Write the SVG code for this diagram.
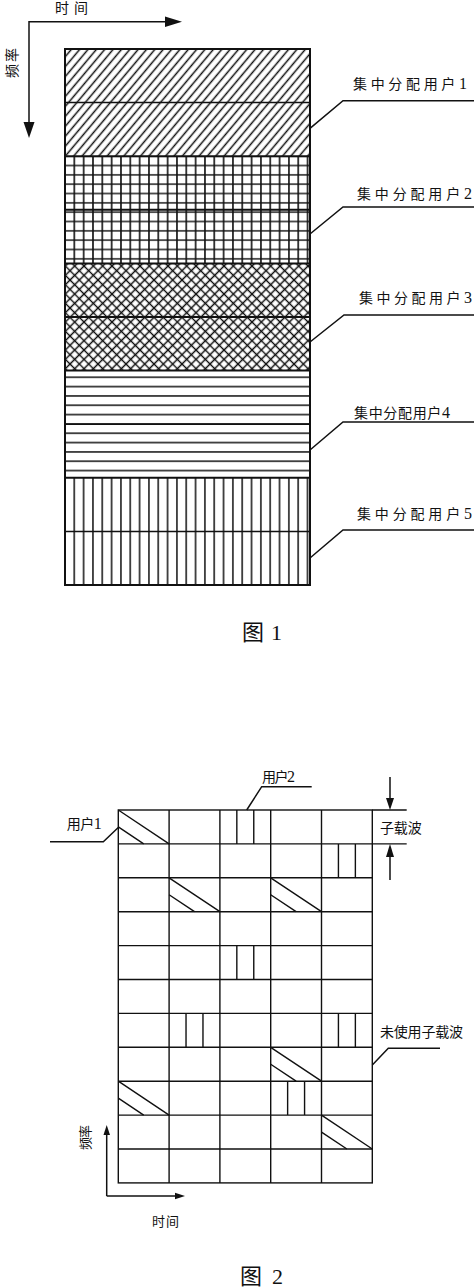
<svg xmlns="http://www.w3.org/2000/svg" width="474" height="1288" viewBox="0 0 474 1288">
<style>
.bg{fill:#fff}
.ln{stroke:#111;stroke-width:1.5;fill:none}
.thick{stroke:#111;stroke-width:2;fill:none}
.cell{stroke:#111;stroke-width:1.4;fill:none}
.ah{fill:#111;stroke:none}
.t{font-family:"Liberation Serif","Noto Sans CJK SC",serif;fill:#111}
.lab{font-size:14px}
.d{font-size:16px}
.cap{font-size:22px}
</style>
<defs>
<pattern id="p1" patternUnits="userSpaceOnUse" width="6.4" height="6.4" patternTransform="rotate(40)"><line x1="3.2" y1="-1" x2="3.2" y2="7.4" stroke="#111" stroke-width="1.5"/></pattern>
<pattern id="p2" patternUnits="userSpaceOnUse" width="9.33" height="9.33" patternTransform="translate(60.33,151.53)"><path d="M4.67 -1V10.33M-1 4.67H10.33" stroke="#111" stroke-width="1.6"/></pattern>
<pattern id="p3" patternUnits="userSpaceOnUse" width="6.6" height="6.6" patternTransform="rotate(45)"><path d="M3.3 -1V7.6M-1 3.3H7.6" stroke="#111" stroke-width="1.5"/></pattern>
<pattern id="p4" patternUnits="userSpaceOnUse" width="10" height="9.33" patternTransform="translate(0,372.6)"><line x1="-1" y1="4.67" x2="11" y2="4.67" stroke="#111" stroke-width="1.5"/></pattern>
<pattern id="p5" patternUnits="userSpaceOnUse" width="9.33" height="10" patternTransform="translate(69.6,0)"><line x1="4.67" y1="-1" x2="4.67" y2="11" stroke="#111" stroke-width="1.5"/></pattern>
</defs>
<rect class="bg" x="0" y="0" width="474" height="1288"/>

<!-- Figure 1 axes -->
<g id="fig1-axes">
<line class="ln" x1="29" y1="21.7" x2="166" y2="21.7"/>
<polygon class="ah" points="165,16.5 182,21.7 165,27"/>
<line class="ln" x1="29" y1="21" x2="29" y2="123"/>
<polygon class="ah" points="23.5,122 29,138 34.5,122"/>
<text class="t lab" x="55" y="13" textLength="33" lengthAdjust="spacing">时间</text>
<text class="t lab" text-anchor="middle" dominant-baseline="central" textLength="30" lengthAdjust="spacing" transform="translate(12,63) rotate(-90)">频率</text>
</g>

<!-- Figure 1 user blocks -->
<g id="user1">
<rect x="65" y="49" width="245" height="107.2" fill="url(#p1)"/>
<line class="ln" x1="65" y1="102.6" x2="310" y2="102.6"/>
</g>
<g id="user2">
<rect x="65" y="156.2" width="245" height="107.2" fill="url(#p2)"/>
<line class="thick" x1="65" y1="209.8" x2="310" y2="209.8"/>
</g>
<g id="user3">
<rect x="65" y="263.4" width="245" height="107.2" fill="url(#p3)"/>
<line class="thick" x1="65" y1="317" x2="310" y2="317"/>
</g>
<g id="user4">
<rect x="65" y="370.6" width="245" height="107.2" fill="url(#p4)"/>
<line class="ln" x1="65" y1="424.2" x2="310" y2="424.2"/>
</g>
<g id="user5">
<rect x="65" y="477.8" width="245" height="107.2" fill="url(#p5)"/>
<line class="ln" x1="65" y1="531.4" x2="310" y2="531.4"/>
</g>
<g id="fig1-frame">
<line class="thick" x1="65" y1="156.2" x2="310" y2="156.2"/>
<line class="thick" x1="65" y1="263.4" x2="310" y2="263.4"/>
<line class="thick" x1="65" y1="370.6" x2="310" y2="370.6"/>
<line class="thick" x1="65" y1="477.8" x2="310" y2="477.8"/>
<rect class="thick" x="65" y="49" width="245" height="536"/>
</g>

<g id="fig1-labels">
<text class="t lab" x="353" y="89" textLength="114" lengthAdjust="spacing">集中分配用户<tspan class="d">1</tspan></text>
<text class="t lab" x="357" y="199" textLength="115" lengthAdjust="spacing">集中分配用户<tspan class="d">2</tspan></text>
<text class="t lab" x="359" y="303" textLength="113" lengthAdjust="spacing">集中分配用户<tspan class="d">3</tspan></text>
<text class="t lab" x="354" y="418" textLength="96" lengthAdjust="spacing">集中分配用户<tspan class="d">4</tspan></text>
<text class="t lab" x="357" y="519" textLength="115" lengthAdjust="spacing">集中分配用户<tspan class="d">5</tspan></text>
</g>
<g id="fig1-connectors">
<polyline class="ln" points="310,128.3 343,100.7 474,100.7"/>
<polyline class="ln" points="310,234 343,207 474,207"/>
<polyline class="ln" points="310,342 344,315 474,315"/>
<polyline class="ln" points="310,450 343,422 474,422"/>
<polyline class="ln" points="310,558 343,530 474,530"/>
</g>
<text class="t cap" x="242" y="640" textLength="40" lengthAdjust="spacing">图 1</text>

<!-- Figure 2 grid -->
<g id="fig2-grid">
<rect class="cell" x="118.3" y="810" width="254" height="372.9"/>
<path class="cell" d="M169.1 810V1182.9M219.9 810V1182.9M270.7 810V1182.9M321.5 810V1182.9"/>
<path class="cell" d="M118.3 843.9H406.7M118.3 877.8H372.3M118.3 911.7H372.3M118.3 945.6H372.3M118.3 979.5H372.3M118.3 1013.4H372.3M118.3 1047.3H372.3M118.3 1081.2H372.3M118.3 1115.1H372.3M118.3 1149H372.3M372.3 810H406.7"/>
</g>
<g id="fig2-user1-cells" class="cell">
<path d="M118.3 810L169.1 843.9M118.3 826.95L143.7 843.9"/>
<path d="M169.1 877.8L219.9 911.7M169.1 894.75L194.5 911.7"/>
<path d="M270.7 877.8L321.5 911.7M270.7 894.75L296.1 911.7"/>
<path d="M270.7 1047.3L321.5 1081.2M270.7 1064.25L296.1 1081.2"/>
<path d="M118.3 1081.2L169.1 1115.1M118.3 1098.15L143.7 1115.1"/>
<path d="M321.5 1115.1L372.3 1149M321.5 1132.05L346.9 1149"/>
</g>
<g id="fig2-user2-cells" class="cell">
<path d="M236.83 810V843.9M253.77 810V843.9"/>
<path d="M338.43 843.9V877.8M355.37 843.9V877.8"/>
<path d="M236.83 945.6V979.5M253.77 945.6V979.5"/>
<path d="M186.03 1013.4V1047.3M202.97 1013.4V1047.3"/>
<path d="M338.43 1013.4V1047.3M355.37 1013.4V1047.3"/>
<path d="M287.63 1081.2V1115.1M304.57 1081.2V1115.1"/>
</g>

<g id="fig2-connectors">
<polyline class="ln" points="50,841.7 103.3,841.7 118.3,827.5"/>
<polyline class="ln" points="311.7,786.7 261.7,786.7 246.7,810"/>
<polyline class="ln" points="372.3,1065 388.3,1048.3 440,1048.3"/>
<line class="ln" x1="390" y1="777" x2="390" y2="799"/>
<polygon class="ah" points="386,798 390,810 394,798"/>
<line class="ln" x1="390" y1="856" x2="390" y2="880"/>
<polygon class="ah" points="386,857 390,844 394,857"/>
</g>
<g id="fig2-labels">
<text class="t lab" x="66.7" y="829" textLength="35" lengthAdjust="spacing">用户<tspan class="d">1</tspan></text>
<text class="t lab" x="262" y="781.5" textLength="33" lengthAdjust="spacing">用户<tspan class="d">2</tspan></text>
<text class="t lab" x="380" y="833" textLength="41.7" lengthAdjust="spacing">子载波</text>
<text class="t lab" x="380" y="1036.5" textLength="83" lengthAdjust="spacing">未使用子载波</text>
</g>
<g id="fig2-axes">
<line class="ln" x1="106.7" y1="1196" x2="106.7" y2="1134"/>
<polygon class="ah" points="103.5,1135 106.7,1125 110,1135"/>
<line class="ln" x1="106.7" y1="1196" x2="176" y2="1196"/>
<polygon class="ah" points="175,1192.8 185,1196 175,1199.2"/>
<text class="t" font-size="13" text-anchor="middle" dominant-baseline="central" textLength="25" lengthAdjust="spacing" transform="translate(85,1137.5) rotate(-90)">频率</text>
<text class="t" font-size="13" x="152" y="1226" textLength="27" lengthAdjust="spacing">时间</text>
</g>
<text class="t cap" x="240" y="1284" textLength="43" lengthAdjust="spacing">图 2</text>
</svg>
